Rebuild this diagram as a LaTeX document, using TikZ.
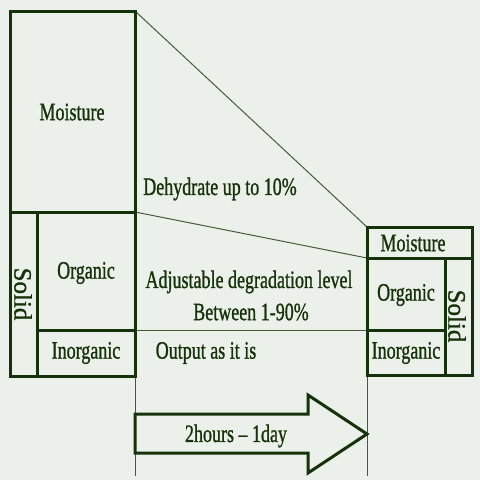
\documentclass[tikz,border=0pt]{standalone}
\usepackage{fontspec}
\usepackage{graphicx}
\setmainfont{Liberation Serif}
\newfontfamily\tfont[FakeBold=1.2,Ligatures=TeX]{Liberation Serif}
\definecolor{bg}{RGB}{236,240,234}
\definecolor{dg}{RGB}{22,50,10}
\definecolor{lg}{RGB}{70,90,55}
\newcommand{\cz}[1]{\scalebox{0.72}[1]{#1}}
\begin{document}
\begin{tikzpicture}[x=1pt,y=-1pt,
  boxline/.style={draw=dg,line width=3pt},
  thinline/.style={draw=lg,line width=1pt},
  lbl/.style={text=dg,font=\tfont\fontsize{25}{28}\selectfont,inner sep=0pt},
  rlbl/.style={lbl,rotate=-90}]
\fill[bg] (0,0) rectangle (480,480);
\useasboundingbox (0,0) rectangle (480,480);
% coordinates
\coordinate (LTL) at (10,11);
\coordinate (LTR) at (135,11);
\coordinate (LMR) at (135,212);
\coordinate (LML) at (10,212);
\coordinate (LIR) at (135,330);
\coordinate (LBR) at (135,376);
\coordinate (RTL) at (367,227);
\coordinate (RML) at (367,258);
\coordinate (RIL) at (367,330);
\coordinate (RBL) at (367,375);
\coordinate (LV1) at (135,476);
\coordinate (RV1) at (367,476);
% thin connectors
\draw[thinline] (LTR) -- (RTL);
\draw[thinline] (LMR) -- (RML);
\draw[thinline] (LIR) -- (RIL);
\draw[thinline] (LBR) -- (LV1);
\draw[thinline] (RBL) -- (RV1);
% left block
\draw[boxline] (LTL) rectangle (LBR);
\draw[boxline] (LML) -- (LMR);
\draw[boxline] (37,212) -- (37,376);
\draw[boxline] (37,330) -- (LIR);
% right block
\draw[boxline] (RTL) rectangle (472,375);
\draw[boxline] (RML) -- (472,258);
\draw[boxline] (445,258) -- (445,375);
\draw[boxline] (RIL) -- (445,330);
% arrow
\draw[boxline,line join=miter] (135,414) -- (308,414) -- (308,395) -- (367,434) -- (308,473) -- (308,453) -- (135,453) -- cycle;
% labels
\node[lbl] (moistL) at (72,112) {\cz{Moisture}};
\node[lbl] (orgL) at (86,273) {\cz{Organic}};
\node[lbl] (inorgL) at (86,353) {\cz{Inorganic}};
\node[rlbl] (solidL) at (23,294) {Solid};
\node[lbl] (dehyd) at (220,189) {\cz{Dehydrate up to 10\%}};
\node[lbl] (adj) at (249,282) {\cz{Adjustable degradation level}};
\node[lbl] (betw) at (251,312) {\cz{Between 1-90\%}};
\node[lbl] (outp) at (206,353) {\cz{Output as it is}};
\node[lbl] (moistR) at (413,243) {\cz{Moisture}};
\node[lbl] (orgR) at (406,295) {\cz{Organic}};
\node[lbl] (inorgR) at (406,353) {\cz{Inorganic}};
\node[rlbl] (solidR) at (457,316) {Solid};
\node[lbl] (time) at (236,436) {\cz{2hours – 1day}};
\end{tikzpicture}
\end{document}
